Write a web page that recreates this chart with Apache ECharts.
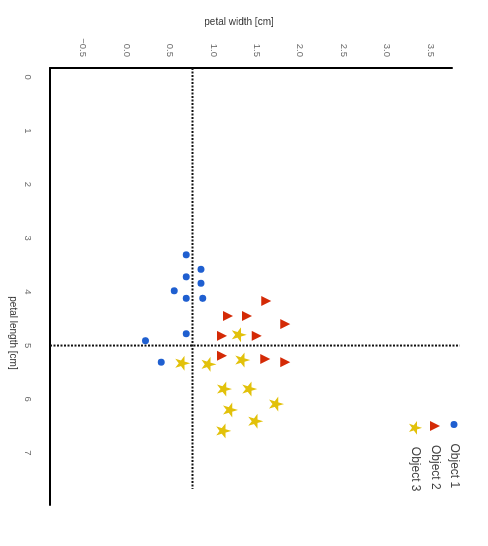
<!DOCTYPE html>
<html>
<head>
<meta charset="utf-8">
<script src="https://cdn.jsdelivr.net/npm/echarts@6/dist/echarts.min.js"></script>
<style>
  html, body { margin: 0; padding: 0; background: #fff; }
  #chart {
    position: absolute; left: 0; top: 0;
    width: 546px; height: 488px;
    transform-origin: 0 0;
    transform: translate(488px, 0) rotate(90deg);
  }
</style>
</head>
<body>
<div id="chart"></div>
<script>
// petal length [cm], petal width [cm]
const object1 = [[3.31, 0.69], [3.58, 0.86], [3.72, 0.69], [3.84, 0.86], [3.98, 0.55],
  [4.12, 0.69], [4.12, 0.88], [4.78, 0.69], [4.91, 0.22], [5.31, 0.40]];
const object2 = [[4.17, 1.61], [4.45, 1.17], [4.45, 1.39], [4.60, 1.83], [4.82, 1.10],
  [4.82, 1.50], [5.19, 1.10], [5.25, 1.60], [5.31, 1.83]];
const object3 = [[4.80, 1.30], [5.33, 0.65], [5.35, 0.95], [5.27, 1.34], [5.81, 1.13],
  [5.81, 1.42], [6.20, 1.20], [6.09, 1.73], [6.41, 1.49], [6.59, 1.12]];
const seriesNames = ['Object 1', 'Object 2', 'Object 3'];

const lengthTicks = [0, 1, 2, 3, 4, 5, 6, 7];
const widthTicks = [-0.5, 0, 0.5, 1, 1.5, 2, 2.5, 3, 3.5];
const lengthRange = [-0.17, 7.97];
const widthRange = [-0.88, 3.75];

// dotted guide lines
const widthGuide = [[-0.17, 0.76], [7.67, 0.76]];
const lengthGuide = [[5.0, -0.88], [5.0, 3.84]];

const star = 'path://M50,0 L61,35 L98,35 L68,57 L79,91 L50,70 L21,91 L32,57 L2,35 L39,35 Z';
const tri = 'path://M50,0 L100,100 L0,100 Z';
const colors = ['#1f5fd0', '#d42a06', '#e2c10a'];
const font = 'Liberation Sans, Arial, sans-serif';

const chart = echarts.init(document.getElementById('chart'));

function legendFor(i, icon, size, top) {
  return {
    data: [{ name: seriesNames[i], icon: icon }],
    left: 421, top: top, padding: 0,
    itemWidth: 28, itemHeight: size, symbolKeepAspect: true,
    textStyle: { fontFamily: font, fontSize: 12, color: '#444' }
  };
}

const guideStyle = { color: '#111', width: 2, type: [2, 1.5] };

chart.setOption({
  animation: false,
  grid: { left: 68, right: 41, top: 36, bottom: 50 },
  legend: [
    legendFor(0, 'circle', 7, 28),
    legendFor(1, tri, 10, 47),
    legendFor(2, star, 13, 66)
  ],
  xAxis: {
    type: 'value',
    min: lengthRange[0], max: lengthRange[1],
    name: 'petal length [cm]', nameLocation: 'middle', nameGap: 31,
    nameTextStyle: { fontFamily: font, fontSize: 10, color: '#333', padding: [0, 0, 0, 93] },
    axisLine: { onZero: false, lineStyle: { color: '#000', width: 2 } },
    axisTick: { show: false },
    splitLine: { show: false },
    axisLabel: {
      customValues: lengthTicks, margin: 17,
      fontFamily: font, fontSize: 9.5, color: '#6e6e6e'
    }
  },
  yAxis: {
    type: 'value',
    min: widthRange[0], max: widthRange[1],
    name: 'petal width [cm]', nameLocation: 'middle', nameGap: 35,
    nameTextStyle: { fontFamily: font, fontSize: 10, color: '#333', padding: [0, 24, 0, 0] },
    axisLine: { onZero: false, lineStyle: { color: '#000', width: 2 } },
    axisTick: { show: false },
    splitLine: { show: false },
    axisLabel: {
      customValues: widthTicks, margin: 11,
      fontFamily: font, fontSize: 9.5, color: '#6e6e6e',
      formatter: v => v.toFixed(1).replace('-', '\u2212')
    }
  },
  series: [
    {
      type: 'line', data: widthGuide, symbol: 'none', clip: false, silent: true,
      lineStyle: guideStyle, z: 1
    },
    {
      type: 'line', data: lengthGuide, symbol: 'none', clip: false, silent: true,
      lineStyle: guideStyle, z: 1
    },
    {
      name: seriesNames[0], type: 'scatter', data: object1,
      symbol: 'circle', symbolSize: 7, itemStyle: { color: colors[0], opacity: 1 }, z: 3
    },
    {
      name: seriesNames[1], type: 'scatter', data: object2,
      symbol: 'triangle', symbolSize: 10, itemStyle: { color: colors[1], opacity: 1 }, z: 3
    },
    {
      name: seriesNames[2], type: 'scatter', data: object3,
      symbol: star, symbolSize: 15, itemStyle: { color: colors[2], opacity: 1 }, z: 3
    }
  ]
});
</script>
</body>
</html>
